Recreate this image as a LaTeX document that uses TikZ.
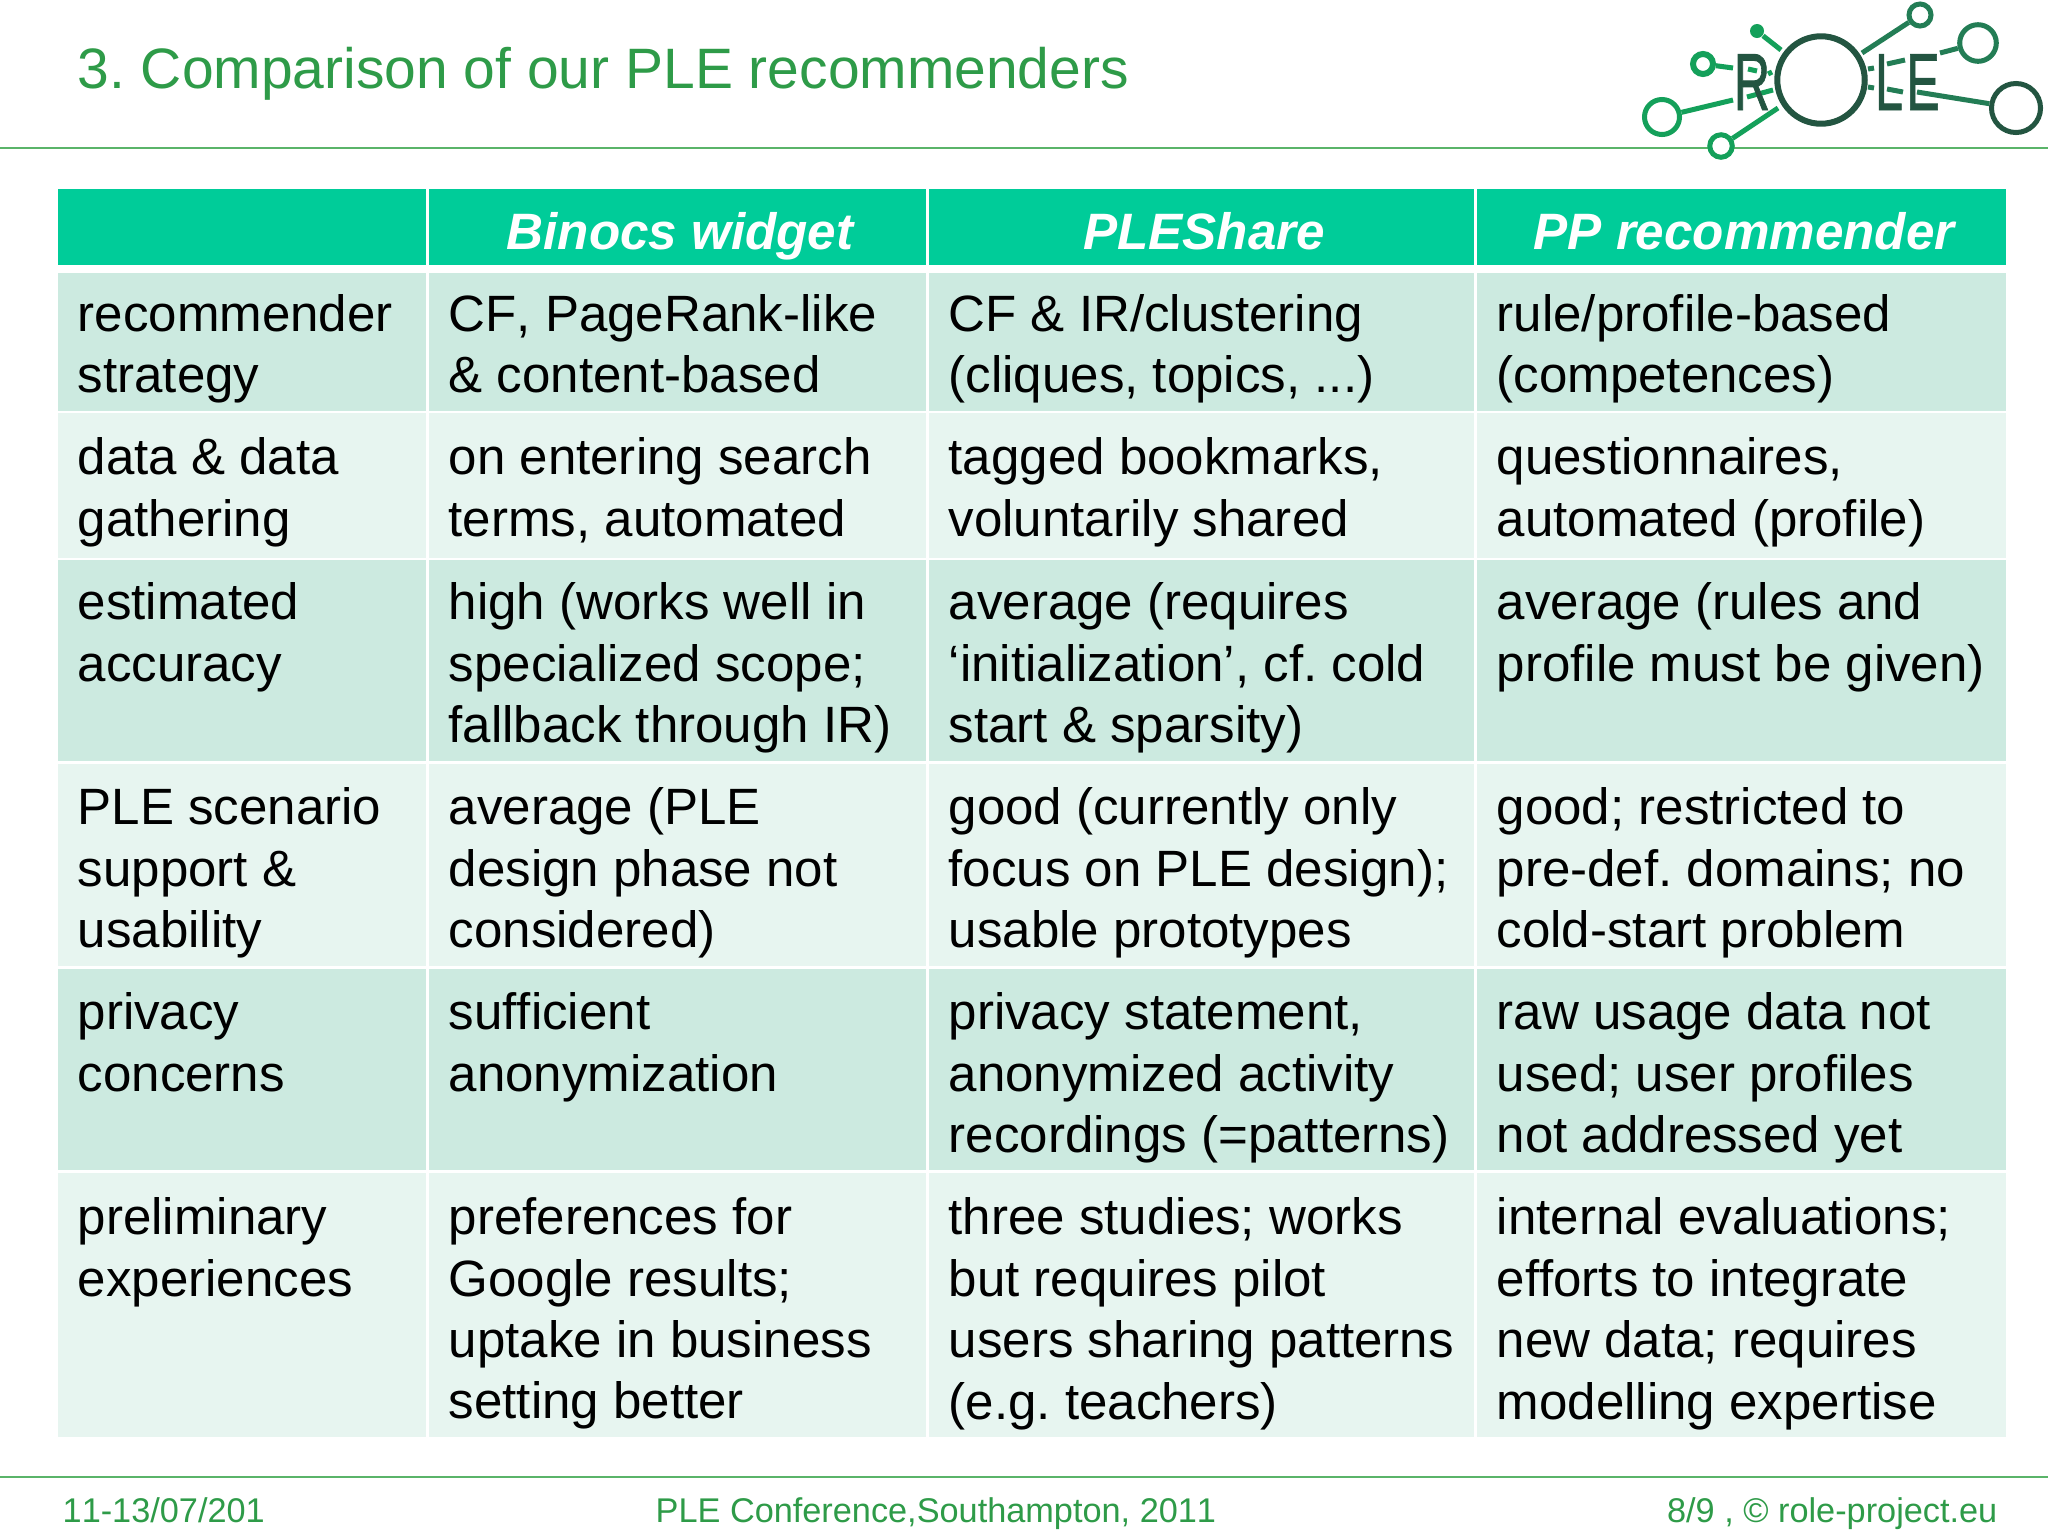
\documentclass[tikz,border=0pt]{standalone}
\usepackage{fontspec}
\setmainfont[Kerning=Off]{Liberation Sans}
\newfontfamily\logofont[FakeBold=1.2]{Liberation Sans}
\definecolor{titlegreen}{RGB}{46,155,72}
\definecolor{linegreen}{RGB}{90,180,105}
\definecolor{headgreen}{RGB}{0,204,153}
\definecolor{rowdark}{RGB}{204,234,224}
\definecolor{rowlight}{RGB}{231,245,240}
\definecolor{logoleft}{RGB}{20,160,90}
\definecolor{logomid}{RGB}{35,125,85}
\definecolor{logodark}{RGB}{35,85,65}
\tikzset{
    celltext/.style={anchor=north west,inner sep=0pt,align=left,text=black,
        font=\fontsize{14.52}{17.47}\selectfont\frenchspacing,execute at begin node={\strut}},
    headtext/.style={anchor=base,inner sep=0pt,text=white,
        font=\fontsize{14.55}{17.47}\selectfont\bfseries\itshape},
    foottext/.style={inner sep=0pt,text=titlegreen,font=\fontsize{9.75}{11}\selectfont\frenchspacing},
    logoletter/.style={anchor=base,inner sep=0pt,text=logodark,xscale=0.62,
        font=\fontsize{23}{26}\selectfont\logofont},
    logoring/.style={circle,draw,inner sep=0pt,line width=0.05cm,fill=white},
    logoline/.style={line width=0.05cm}
}
\begin{document}
\begin{tikzpicture}[x=0.01cm,y=-0.01cm]
    \useasboundingbox (0,0) rectangle (2048,1536);
    \fill[white] (0,0) rectangle (2048,1536);

    \node[anchor=base west,inner sep=0pt,text=titlegreen,font=\fontsize{16.2}{20}\selectfont\frenchspacing] (title) at (77,88) {3. Comparison of our PLE recommenders};
    \coordinate (titlelineL) at (0,148);
    \coordinate (titlelineR) at (2048,148);
    \draw[linegreen,line width=0.6pt] (titlelineL) -- (titlelineR);

    \fill[headgreen] (58,189) rectangle (2006,265);
    \fill[rowdark] (58,273) rectangle (2006,411);
    \fill[rowlight] (58,413) rectangle (2006,557.5);
    \fill[rowdark] (58,560) rectangle (2006,761);
    \fill[rowlight] (58,764) rectangle (2006,966);
    \fill[rowdark] (58,969) rectangle (2006,1170);
    \fill[rowlight] (58,1173) rectangle (2006,1437);
    \draw[white,line width=0.026cm] (427.3,189) -- (427.3,1437);
    \draw[white,line width=0.026cm] (927.7,189) -- (927.7,1437);
    \draw[white,line width=0.026cm] (1475.7,189) -- (1475.7,1437);

    \node[headtext] (headA) at (680,249) {Binocs widget};
    \node[headtext] (headB) at (1204,249) {PLEShare};
    \node[headtext] (headC) at (1744,249) {PP recommender};

    \node[celltext] (strategy) at (77,293.5) {recommender\\strategy};
    \node[celltext] (strategyA) at (448,293.5) {CF, PageRank-like\\\& content-based};
    \node[celltext] (strategyB) at (948,293.5) {CF \& IR/clustering\\(cliques, topics, ...)};
    \node[celltext] (strategyC) at (1496,293.5) {rule/profile-based\\(competences)};

    \node[celltext] (gathering) at (77,437) {data \& data\\gathering};
    \node[celltext] (gatheringA) at (448,437) {on entering search\\terms, automated};
    \node[celltext] (gatheringB) at (948,437) {tagged bookmarks,\\voluntarily shared};
    \node[celltext] (gatheringC) at (1496,437) {questionnaires,\\automated (profile)};

    \node[celltext] (accuracy) at (77,582) {estimated\\accuracy};
    \node[celltext] (accuracyA) at (448,582) {high (works well in\\specialized scope;\\fallback through IR)};
    \node[celltext] (accuracyB) at (948,582) {average (requires\\‘initialization’, cf. cold\\start \& sparsity)};
    \node[celltext] (accuracyC) at (1496,582) {average (rules and\\profile must be given)};

    \node[celltext] (scenario) at (77,787) {PLE scenario\\support \&\\usability};
    \node[celltext] (scenarioA) at (448,787) {average (PLE\\design phase not\\considered)};
    \node[celltext] (scenarioB) at (948,787) {good (currently only\\focus on PLE design);\\usable prototypes};
    \node[celltext] (scenarioC) at (1496,787) {good; restricted to\\pre-def. domains; no\\cold-start problem};

    \node[celltext] (privacy) at (77,992) {privacy\\concerns};
    \node[celltext] (privacyA) at (448,992) {sufficient\\anonymization};
    \node[celltext] (privacyB) at (948,992) {privacy statement,\\anonymized activity\\recordings (=patterns)};
    \node[celltext] (privacyC) at (1496,992) {raw usage data not\\used; user profiles\\not addressed yet};

    \node[celltext] (prelim) at (77,1197) {preliminary\\experiences};
    \node[celltext] (prelimA) at (448,1197) {preferences for\\Google results;\\uptake in business\\setting better};
    \node[celltext] (prelimB) at (948,1197) {three studies; works\\but requires pilot\\users sharing patterns\\(e.g. teachers)};
    \node[celltext] (prelimC) at (1496,1197) {internal evaluations;\\efforts to integrate\\new data; requires\\modelling expertise};

    \coordinate (footlineL) at (0,1477);
    \coordinate (footlineR) at (2048,1477);
    \draw[linegreen,line width=0.7pt] (footlineL) -- (footlineR);
    \node[foottext,anchor=base west] (footdate) at (62,1522) {11-13/07/201};
    \node[foottext,anchor=base west] (footplace) at (655,1522) {PLE Conference,Southampton, 2011};
    \node[foottext,anchor=base east] (footpage) at (1998,1522) {8/9 , © role-project.eu};

    \coordinate (rA) at (1862,53);
    \coordinate (rB) at (1940,53);
    \coordinate (rC) at (1917,92);
    \coordinate (lA) at (1733,68);
    \coordinate (lB) at (1733,100);
    \coordinate (lC) at (1778,108);
    \coordinate (lD) at (1781,50);

    \node[circle,fill=logoleft,inner sep=0pt,minimum size=0.14cm] (dotTL) at (1757,31) {};
    \draw[logoleft,logoline] (dotTL) -- (lD);
    \node[logoring,draw=logomid,minimum size=0.22cm] (ringT) at (1920,15) {};
    \draw[logomid,logoline] (ringT) -- (rA);
    \node[logoring,draw=logomid,minimum size=0.366cm] (ringUR) at (1978,43) {};
    \draw[logomid,logoline] (ringUR) -- (rB);
    \node[logoring,draw=logodark,minimum size=0.49cm] (ringLR) at (2016,108) {};
    \draw[logomid,logoline] (ringLR) -- (rC);
    \node[logoring,draw=logoleft,line width=0.06cm,minimum size=0.2cm] (ringUL) at (1703,64) {};
    \draw[logoleft,logoline] (ringUL) -- (lA);
    \node[logoring,draw=logoleft,minimum size=0.35cm] (ringLL) at (1662,117) {};
    \draw[logoleft,logoline] (ringLL) -- (lB);
    \node[logoring,draw=logoleft,minimum size=0.225cm] (ringB) at (1721,146) {};
    \draw[logoleft,logoline] (ringB) -- (lC);

    \coordinate (rD) at (1905,60);
    \coordinate (rE) at (1887,64);
    \coordinate (rF) at (1874,68);
    \coordinate (rG) at (1868,69);
    \coordinate (rH) at (1903,92);
    \coordinate (rJ) at (1887,89);
    \coordinate (rK) at (1874,88);
    \coordinate (rL) at (1868,87);
    \coordinate (lE) at (1748,69);
    \coordinate (lF) at (1757,71);
    \coordinate (lG) at (1772,72);
    \coordinate (lH) at (1768,74);
    \coordinate (lJ) at (1747,97);
    \coordinate (lK) at (1773,90);
    \draw[logomid,logoline] (rD) -- (rE);
    \draw[logomid,logoline] (rF) -- (rG);
    \draw[logomid,logoline] (rH) -- (rJ);
    \draw[logomid,logoline] (rK) -- (rL);
    \draw[logoleft,logoline] (lE) -- (lF);
    \draw[logoleft,logoline] (lG) -- (lH);
    \draw[logoleft,logoline] (lJ) -- (lK);

    \node[circle,draw=logodark,line width=0.06cm,inner sep=0pt,minimum size=0.874cm] (ringO) at (1821,80) {};
    \node[logoletter] (letterR) at (1752,110) {R};
    \node[logoletter] (letterL) at (1889,110) {L};
    \node[logoletter] (letterE) at (1923,110) {E};
\end{tikzpicture}
\end{document}
